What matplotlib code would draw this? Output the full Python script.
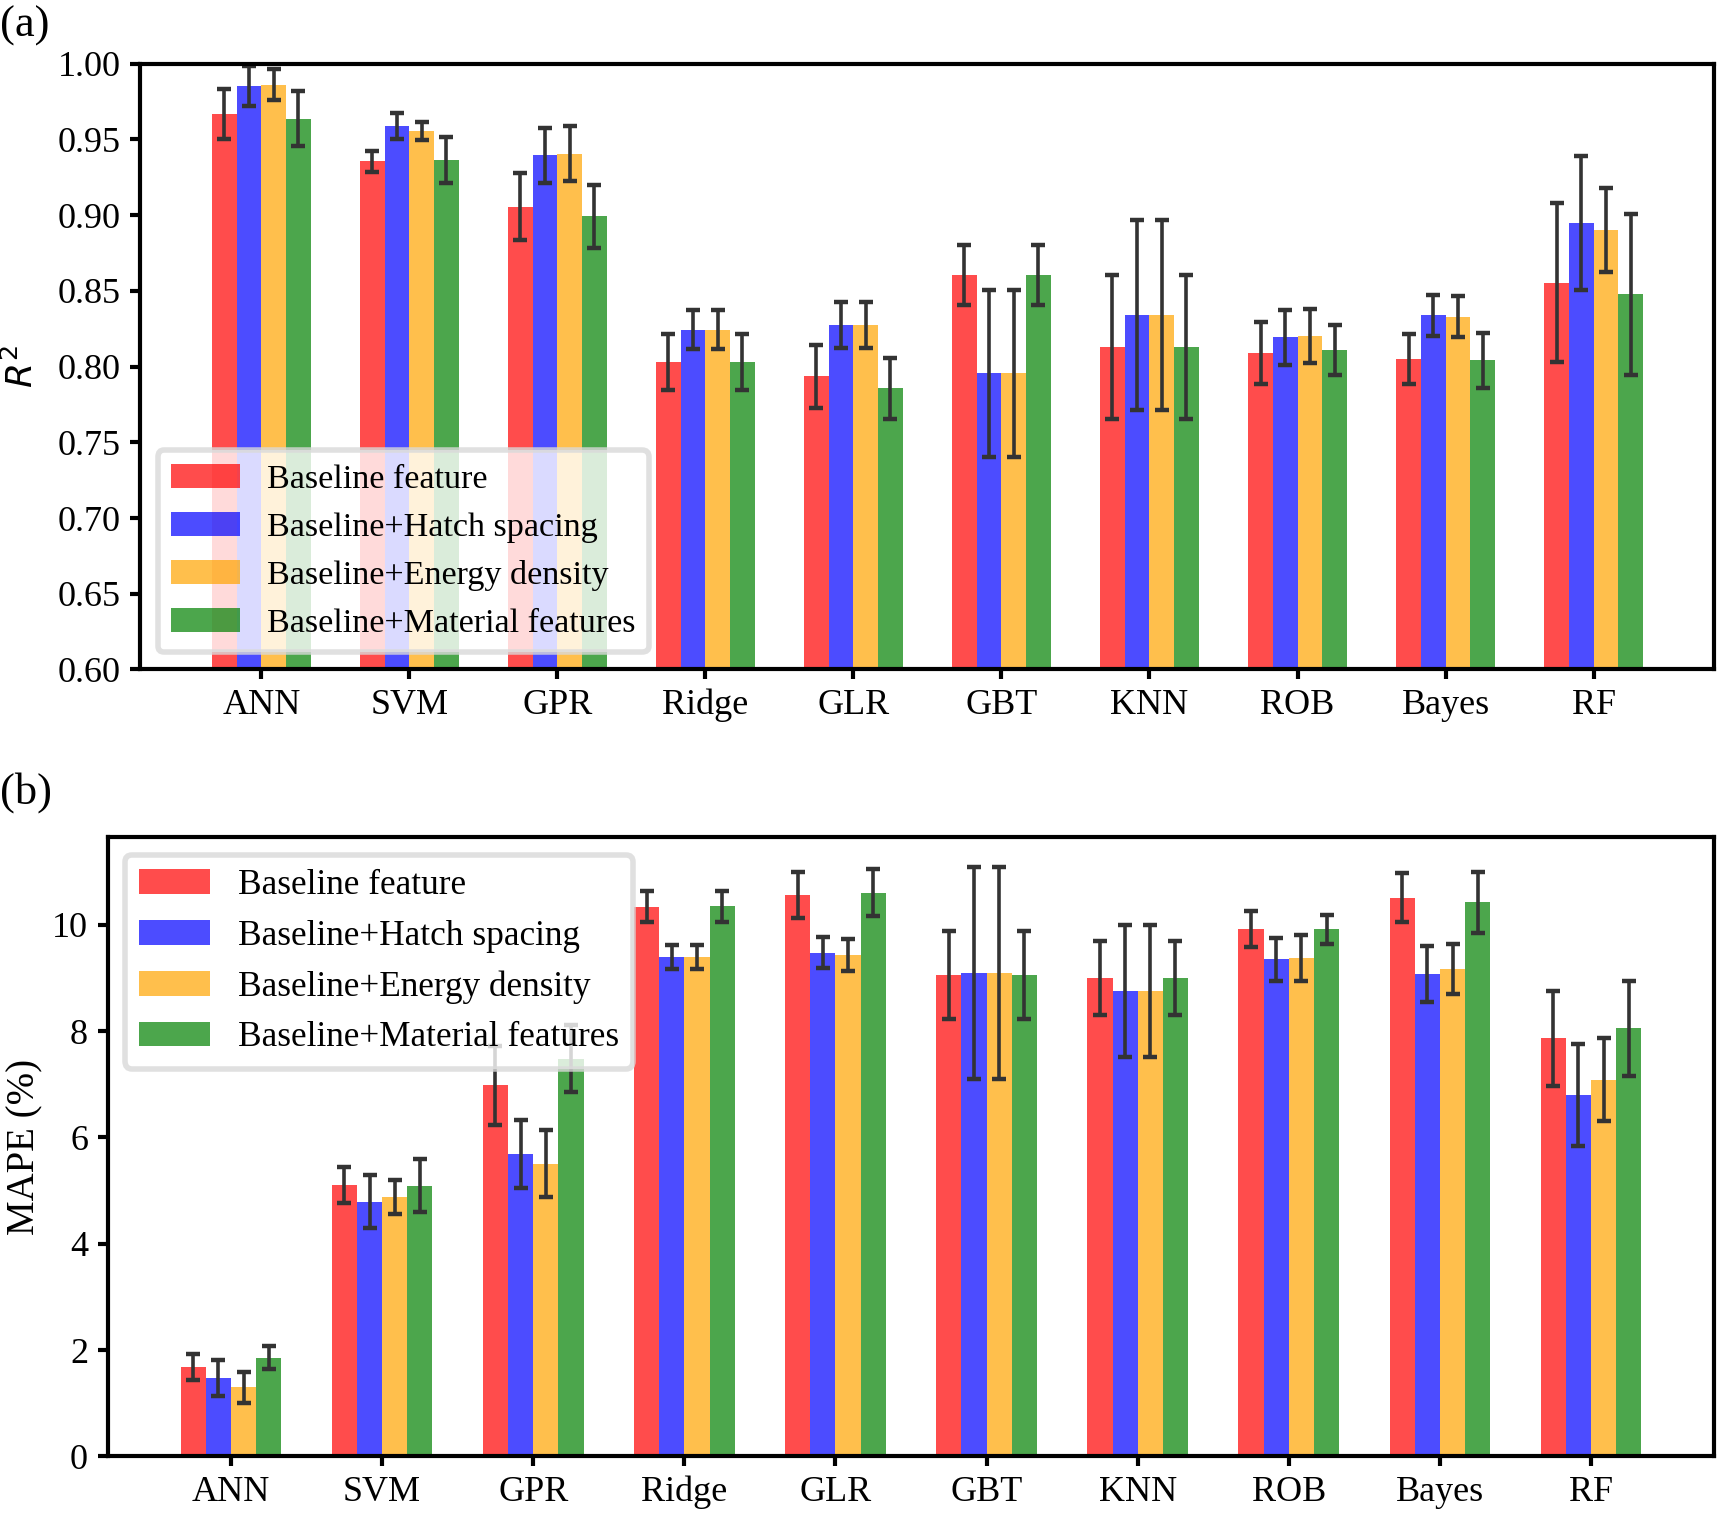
import numpy as np
import matplotlib.pyplot as plt

plt.rcParams['font.family'] = ['Liberation Serif', 'DejaVu Serif']
plt.rcParams['mathtext.fontset'] = 'dejavusans'

# ---- datos ----
modelos = ['ANN', 'SVM', 'GPR', 'Ridge', 'GLR', 'GBT', 'KNN', 'ROB', 'Bayes', 'RF']
series = ['Baseline feature', 'Baseline+Hatch spacing',
          'Baseline+Energy density', 'Baseline+Material features']
colores = ['red', 'blue', 'orange', 'green']

# (a) R2
r2_base     = [0.9664, 0.9355, 0.9055, 0.8029, 0.7935, 0.8604, 0.8129, 0.8089, 0.8050, 0.8554]
r2_hatch    = [0.9852, 0.9590, 0.9394, 0.8244, 0.8274, 0.7956, 0.8340, 0.8192, 0.8338, 0.8946]
r2_energy   = [0.9861, 0.9555, 0.9406, 0.8244, 0.8274, 0.7956, 0.8340, 0.8201, 0.8329, 0.8901]
r2_material = [0.9637, 0.9364, 0.8992, 0.8030, 0.7856, 0.8604, 0.8130, 0.8110, 0.8041, 0.8477]

r2_base_err     = [0.0165, 0.0070, 0.0220, 0.0185, 0.0210, 0.0197, 0.0475, 0.0204, 0.0168, 0.0527]
r2_hatch_err    = [0.0135, 0.0085, 0.0180, 0.0130, 0.0150, 0.0551, 0.0625, 0.0180, 0.0135, 0.0442]
r2_energy_err   = [0.0100, 0.0060, 0.0180, 0.0130, 0.0150, 0.0551, 0.0625, 0.0180, 0.0136, 0.0277]
r2_material_err = [0.0180, 0.0150, 0.0207, 0.0185, 0.0200, 0.0197, 0.0475, 0.0165, 0.0180, 0.0533]

# (b) MAPE (%)
mape_base     = [1.68, 5.10, 6.98, 10.34, 10.56, 9.06, 9.00, 9.92, 10.51, 7.86]
mape_hatch    = [1.47, 4.79, 5.68, 9.39, 9.47, 9.09, 8.76, 9.35, 9.07, 6.79]
mape_energy   = [1.30, 4.88, 5.50, 9.39, 9.43, 9.09, 8.76, 9.37, 9.16, 7.08]
mape_material = [1.86, 5.09, 7.48, 10.35, 10.60, 9.06, 9.00, 9.91, 10.42, 8.05]

mape_base_err     = [0.24, 0.34, 0.74, 0.29, 0.43, 0.83, 0.69, 0.34, 0.46, 0.90]
mape_hatch_err    = [0.34, 0.50, 0.64, 0.23, 0.29, 2.00, 1.24, 0.40, 0.52, 0.96]
mape_energy_err   = [0.29, 0.32, 0.63, 0.23, 0.30, 2.00, 1.24, 0.43, 0.47, 0.78]
mape_material_err = [0.21, 0.50, 0.63, 0.29, 0.44, 0.83, 0.69, 0.27, 0.58, 0.89]

r2_vals = [r2_base, r2_hatch, r2_energy, r2_material]
r2_errs = [r2_base_err, r2_hatch_err, r2_energy_err, r2_material_err]
mape_vals = [mape_base, mape_hatch, mape_energy, mape_material]
mape_errs = [mape_base_err, mape_hatch_err, mape_energy_err, mape_material_err]

# ---- grafica ----
x = np.arange(len(modelos))
ancho = 1 / 6
error_kw = dict(ecolor='#333333', elinewidth=1.3, capsize=2.4, capthick=1.6)

fig = plt.figure(figsize=(8.605, 7.57), dpi=200)
ax1 = fig.add_axes([0.0816, 0.5578, 0.9146, 0.4002])
ax2 = fig.add_axes([0.0625, 0.038, 0.9337, 0.409])


def dibujar(ax, vals, errs):
    for i in range(4):
        ax.bar(x + (i - 1.5) * ancho, vals[i], ancho, yerr=errs[i],
               color=colores[i], alpha=0.7, label=series[i], error_kw=error_kw)
    ax.set_xticks(x)
    ax.set_xticklabels(modelos, fontsize=13)
    ax.tick_params(axis='both', labelsize=13, width=1.5, length=3.5)
    for s in ax.spines.values():
        s.set_linewidth(1.5)


def leyenda(ax, loc, size):
    leg = ax.legend(loc=loc, fontsize=size)
    leg.get_frame().set_linewidth(2.0)
    leg.get_frame().set_edgecolor('0.85')


dibujar(ax1, r2_vals, r2_errs)
ax1.set_ylim(0.6, 1.0)
ax1.set_yticks(np.arange(0.60, 1.001, 0.05))
ax1.set_yticklabels([f'{v:.2f}' for v in np.arange(0.60, 1.001, 0.05)])
ax1.set_ylabel('$R^2$', fontsize=13)
ax1.yaxis.set_label_coords(-0.063, 0.5)
leyenda(ax1, 'lower left', 12.3)

dibujar(ax2, mape_vals, mape_errs)
ax2.set_ylabel('MAPE (%)', fontsize=14)
ax2.yaxis.set_label_coords(-0.040, 0.5)
leyenda(ax2, 'upper left', 12.7)

fig.text(0.0, 0.996, '(a)', fontsize=16, ha='left', va='top')
fig.text(0.0, 0.490, '(b)', fontsize=16, ha='left', va='top')

fig.savefig('out.png', dpi=200)
